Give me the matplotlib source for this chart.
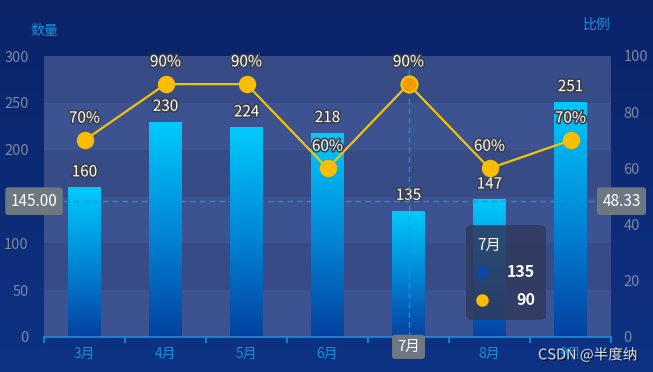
import numpy as np
import matplotlib
matplotlib.use("Agg")
import matplotlib.pyplot as plt
import matplotlib.patheffects as pe
from matplotlib.colors import LinearSegmentedColormap
from matplotlib.patches import FancyBboxPatch
from matplotlib.lines import Line2D
import matplotlib.transforms as mtransforms

plt.rcParams["font.family"] = ["Noto Sans CJK SC", "DejaVu Sans"]

# data
months = ["3月", "4月", "5月", "6月", "7月", "8月", "9月"]
counts = [160, 230, 224, 218, 135, 147, 251]
ratios = [70, 90, 90, 60, 90, 60, 70]
left_ticks = [0, 50, 100, 150, 200, 250, 300]
right_ticks = [0, 20, 40, 60, 80, 100]
hover_idx = 4
cross_left = 145.00
cross_right = 48.33

W, H = 653, 372
fig = plt.figure(figsize=(W / 100, H / 100), dpi=100)

# page background gradient
bg = fig.add_axes([0, 0, 1, 1], zorder=-10)
bg_cmap = LinearSegmentedColormap.from_list("bg", ["#0e3384", "#0a2369"])
bg.imshow(np.linspace(0, 1, 256).reshape(-1, 1), aspect="auto", cmap=bg_cmap,
          extent=[0, 1, 0, 1], origin="lower")
bg.axis("off")

# main axes: plot area 44..611 px wide, 56..337 px tall
ax = fig.add_axes([44 / W, 35 / H, 567 / W, 281 / H])
ax.set_facecolor("#394d8a")
ax.set_xlim(-0.5, len(months) - 0.5)
ax.set_ylim(0, 300)

# split area bands
band_cols = ["#3d5291", "#374b87"]
for i in range(len(left_ticks) - 1):
    ax.axhspan(left_ticks[i], left_ticks[i + 1], color=band_cols[i % 2], zorder=0, lw=0)

# gradient bars
bar_cmap = LinearSegmentedColormap.from_list("bar", ["#0541a0", "#0288d8", "#00cbfb"])
grad = np.linspace(0, 1, 256).reshape(-1, 1)
x = np.arange(len(months))
bars = ax.bar(x, counts, width=0.4, color="none", zorder=2)
for b, v in zip(bars, counts):
    im = ax.imshow(grad, aspect="auto", cmap=bar_cmap, origin="lower",
                   extent=[b.get_x(), b.get_x() + b.get_width(), 0, v], zorder=2)
    im.set_clip_path(b)

outline = [pe.withStroke(linewidth=2.4, foreground="#3a3f4a")]
for xi, v in zip(x, counts):
    ax.annotate(str(v), (xi, v), xytext=(0, 11), textcoords="offset points",
                ha="center", va="center", color="white", fontsize=11,
                path_effects=outline, zorder=6)

ax.set_xticks(x)
ax.set_xticklabels(months, color="#1a8fd8", fontsize=10)
ax.set_xticks(np.arange(-0.5, len(months)), minor=True)
ax.tick_params(axis="x", which="major", length=0, pad=7)
ax.tick_params(axis="x", which="minor", length=4, color="#1a8fd8", width=1.2)
ax.set_yticks(left_ticks)
ax.tick_params(axis="y", length=0, pad=11, labelcolor="#7c879e", labelsize=10.5)
for s in ["top", "left", "right"]:
    ax.spines[s].set_visible(False)
ax.spines["bottom"].set_color("#1a8fd8")
ax.spines["bottom"].set_linewidth(1.2)

# right axis with ratio line
ax2 = ax.twinx()
ax2.set_ylim(0, 100)
ax2.set_yticks(right_ticks)
ax2.tick_params(axis="y", length=0, pad=9, labelcolor="#7c879e", labelsize=10.5)
for s in ["top", "left", "right", "bottom"]:
    ax2.spines[s].set_visible(False)
ax2.plot(x, ratios, color="#f5c400", lw=1.6, marker="o", markersize=11.5,
         markerfacecolor="#fbbd00", markeredgecolor="#fbbd00", zorder=5)
ax2.plot([x[hover_idx]], [ratios[hover_idx]], marker="o", markersize=11.5,
         markerfacecolor="#f59a00", markeredgecolor="#f5c400", markeredgewidth=1.5,
         zorder=6)
for xi, v in zip(x, ratios):
    ax2.annotate(f"{v}%", (xi, v), xytext=(0, 16), textcoords="offset points",
                 ha="center", va="center", color="white", fontsize=11,
                 path_effects=outline, zorder=7)

# crosshair
ax2.axhline(cross_right, color="#1a8fd8", lw=1, ls=(0, (4, 3)), zorder=4)
ax2.axvline(x[hover_idx], color="#1a8fd8", lw=1, ls=(0, (4, 3)), zorder=4)
box = dict(boxstyle="round,pad=0.35,rounding_size=0.2", fc="#6e7883", ec="none")
lt = mtransforms.blended_transform_factory(ax2.transAxes, ax.transData)
ax2.text(-0.0176, cross_left, f"{cross_left:.2f}", transform=lt, ha="center", va="center",
         color="white", fontsize=11, bbox=box, zorder=8, clip_on=False)
ax2.text(1.0185, cross_left, f"{cross_right:.2f}", transform=lt, ha="center", va="center",
         color="white", fontsize=11, bbox=box, zorder=8, clip_on=False)
bt = mtransforms.blended_transform_factory(ax.transData, ax.transAxes)
ax2.text(x[hover_idx], -0.035, months[hover_idx], transform=bt, ha="center", va="center",
         color="white", fontsize=10.5, bbox=box, zorder=8, clip_on=False)

# axis names
fig.text(30 / W, 1 - 31 / H, "数量", color="#1a8fd8", fontsize=10, va="center")
fig.text(583 / W, 1 - 25 / H, "比例", color="#1a8fd8", fontsize=10, va="center")

# tooltip
tip = FancyBboxPatch((466 / W, 1 - 320 / H), 80 / W, 95 / H,
                     boxstyle="round,pad=0,rounding_size=0.012",
                     transform=fig.transFigure, fc="#2f3a5c", ec="none", alpha=0.85,
                     zorder=20)
fig.patches.append(tip)
fig.text(477 / W, 1 - 245 / H, months[hover_idx], color="white", fontsize=11,
         va="center", zorder=21)
fig.text(535 / W, 1 - 272 / H, str(counts[hover_idx]), color="white", fontsize=11.5,
         fontweight="bold", va="center", ha="right", zorder=21)
fig.text(535 / W, 1 - 300 / H, str(ratios[hover_idx]), color="white", fontsize=11.5,
         fontweight="bold", va="center", ha="right", zorder=21)
for yy, c in [(272, "#0c48a8"), (300, "#fbbd00")]:
    fig.add_artist(Line2D([482 / W], [1 - yy / H], transform=fig.transFigure,
                          marker="o", markersize=8, markerfacecolor=c,
                          markeredgecolor=c, zorder=21))

# watermark
fig.text(538 / W, 1 - 355 / H, "CSDN @半度纳", color="#dfe3ea", fontsize=10.5,
         va="center", zorder=22,
         path_effects=[pe.withSimplePatchShadow(offset=(1, -1), shadow_rgbFace="#111111", alpha=0.8)])

fig.savefig("out.png", dpi=100)
